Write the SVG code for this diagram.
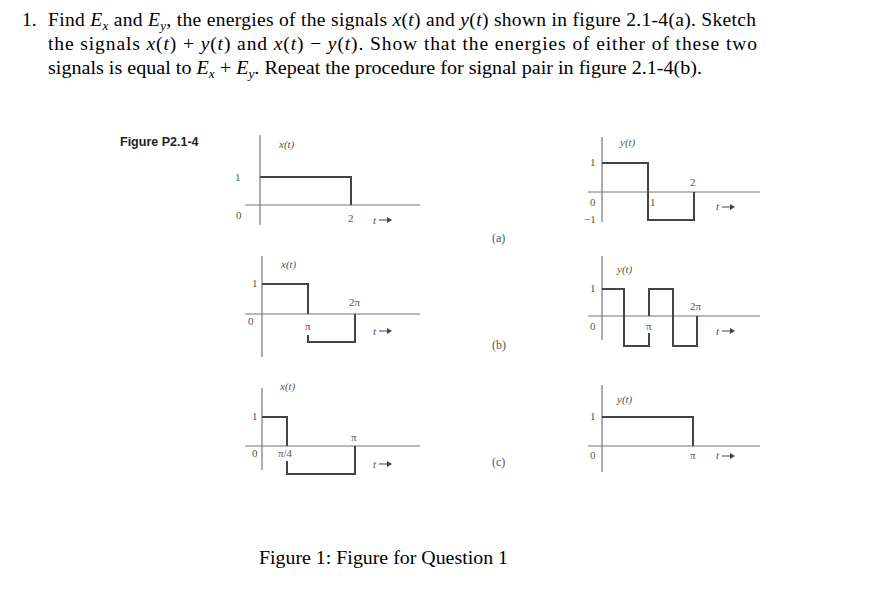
<svg xmlns="http://www.w3.org/2000/svg" width="889" height="592" viewBox="0 0 889 592">
<style>
.t{font-family:"Liberation Serif",serif;font-size:19.5px;fill:#000}
.i{font-style:italic}
.s{font-size:13px;font-style:italic}
.ax{stroke:#777;stroke-width:1.2;fill:none}
.sg{stroke:#444;stroke-width:2;fill:none}
.l{font-family:"Liberation Serif",serif;font-size:11px;fill:#555}
.li{font-family:"Liberation Serif",serif;font-size:11px;fill:#555;font-style:italic}
.p{font-family:"Liberation Serif",serif;font-size:12px;fill:#555}
</style>
<rect width="889" height="592" fill="#fff"/>
<g id="question">
<text class="t" x="22" y="26">1.</text>
<text class="t" x="48" y="26" textLength="708" lengthAdjust="spacing">Find <tspan class="i">E</tspan><tspan class="s" dy="4">x</tspan><tspan dy="-4"> and </tspan><tspan class="i">E</tspan><tspan class="s" dy="4">y</tspan><tspan dy="-4">, the energies of the signals </tspan><tspan class="i">x</tspan>(<tspan class="i">t</tspan>) and <tspan class="i">y</tspan>(<tspan class="i">t</tspan>) shown in figure 2.1-4(a). Sketch</text>
<text class="t" x="48" y="50" textLength="709" lengthAdjust="spacing">the signals <tspan class="i">x</tspan>(<tspan class="i">t</tspan>) + <tspan class="i">y</tspan>(<tspan class="i">t</tspan>) and <tspan class="i">x</tspan>(<tspan class="i">t</tspan>) − <tspan class="i">y</tspan>(<tspan class="i">t</tspan>).  Show that the energies of either of these two</text>
<text class="t" x="48" y="74" textLength="654" lengthAdjust="spacingAndGlyphs">signals is equal to <tspan class="i">E</tspan><tspan class="s" dy="4">x</tspan><tspan dy="-4"> + </tspan><tspan class="i">E</tspan><tspan class="s" dy="4">y</tspan><tspan dy="-4">. Repeat the procedure for signal pair in figure 2.1-4(b).</tspan></text>
</g>
<text x="120" y="146" font-family="Liberation Sans,sans-serif" font-size="12.5" font-weight="bold" fill="#222">Figure P2.1-4</text>
<g id="a-x">
<path class="ax" d="M260 135V225M245 205H420"/>
<path class="sg" d="M260 177H351V205"/>
<text class="li" x="279" y="148">x(t)</text>
<text class="l" x="235" y="181">1</text>
<text class="l" x="236" y="219">0</text>
<text class="l" x="348" y="222">2</text>
<text class="li" x="373" y="224">t</text>
</g>
<g id="a-y">
<path class="ax" d="M602 137V222M588 192H760"/>
<path class="sg" d="M602 163H648V220H694V192"/>
<text class="li" x="620" y="146">y(t)</text>
<text class="l" x="590" y="166">1</text>
<text class="l" x="590" y="206">0</text>
<text class="l" x="584" y="223">−1</text>
<text class="l" x="690" y="186">2</text>
<text class="l" x="650" y="206">1</text>
<text class="li" x="716" y="210">t</text>
</g>
<g id="b-x">
<path class="ax" d="M262 256V357M245 314H420"/>
<path class="sg" d="M262 284H308V314M308 335V342H355V314"/>
<text class="li" x="281" y="268">x(t)</text>
<text class="l" x="252" y="287">1</text>
<text class="l" x="248" y="325">0</text>
<text class="l" x="305" y="330">π</text>
<text class="l" x="349" y="306">2π</text>
<text class="li" x="373" y="335">t</text>
</g>
<g id="b-y">
<path class="ax" d="M602 256V340M588 316H760"/>
<path class="sg" d="M602 289H624V346H649V333M649 316V289H673V346H697V316"/>
<text class="li" x="617" y="273">y(t)</text>
<text class="l" x="590" y="292">1</text>
<text class="l" x="590" y="330">0</text>
<text class="l" x="646" y="330">π</text>
<text class="l" x="690" y="310">2π</text>
<text class="li" x="716" y="335">t</text>
</g>
<g id="c-x">
<path class="ax" d="M262 388V470M245 446H420"/>
<path class="sg" d="M262 417H287V446M287 461V474H355V446"/>
<text class="li" x="280" y="390">x(t)</text>
<text class="l" x="252" y="420">1</text>
<text class="l" x="252" y="457">0</text>
<text class="l" x="278" y="457">π/4</text>
<text class="l" x="351" y="441">π</text>
<text class="li" x="373" y="468">t</text>
</g>
<g id="c-y">
<path class="ax" d="M602 385V472M588 446H760"/>
<path class="sg" d="M602 417H693V446"/>
<text class="li" x="617" y="403">y(t)</text>
<text class="l" x="590" y="420">1</text>
<text class="l" x="590" y="459">0</text>
<text class="l" x="690" y="459">π</text>
<text class="li" x="716" y="459">t</text>
</g>
<g id="connectors" fill="#444" stroke="#444" stroke-width="1.2">
<path d="M379 220H388M379 331H388M379 464H388M722 207H731M722 331H731M722 456H731"/>
<path stroke="none" d="M392 220l-5-3v6zM392 331l-5-3v6zM392 464l-5-3v6zM735 207l-5-3v6zM735 331l-5-3v6zM735 456l-5-3v6z"/>
</g>
<text class="p" x="492" y="242">(a)</text>
<text class="p" x="492" y="349">(b)</text>
<text class="p" x="492" y="466">(c)</text>
<text class="t" x="259" y="564" textLength="249" lengthAdjust="spacingAndGlyphs">Figure 1: Figure for Question 1</text>
</svg>
